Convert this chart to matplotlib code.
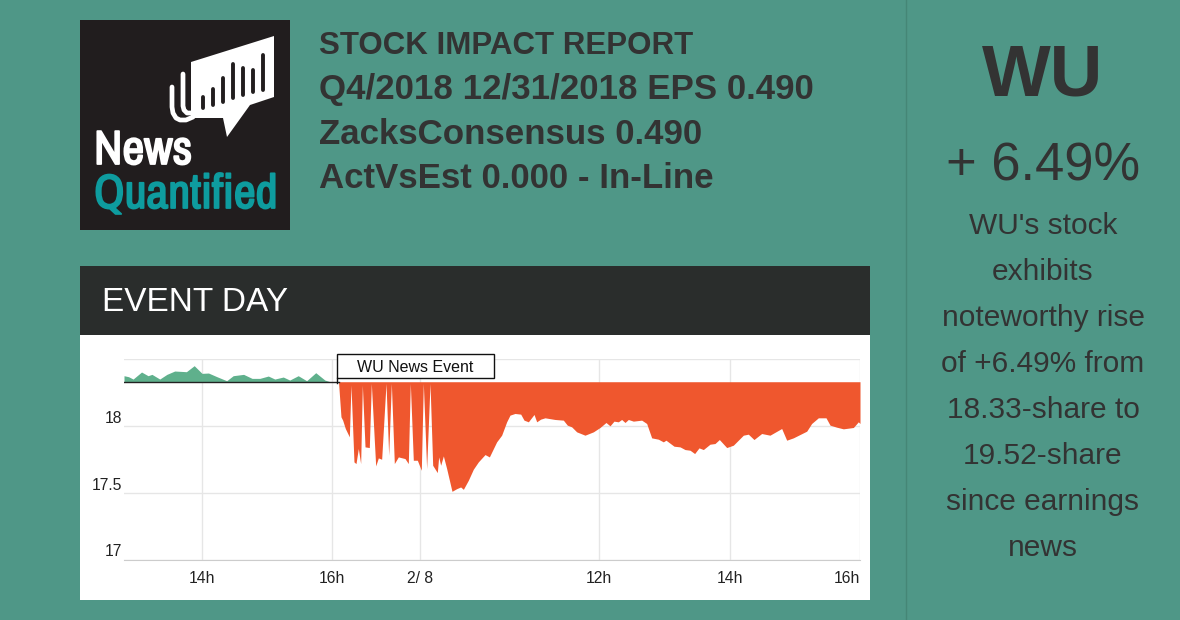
import numpy as np
import matplotlib
matplotlib.use('Agg')
import matplotlib.pyplot as plt
import matplotlib.patheffects as pe
from matplotlib import font_manager
from matplotlib.patches import Rectangle, Polygon

plt.rcParams['font.family'] = ['Liberation Sans', 'DejaVu Sans']

# report text
ticker = 'WU'
change_text = '+ 6.49%'
report_lines = ['STOCK IMPACT REPORT', 'Q4/2018 12/31/2018 EPS 0.490', 'ZacksConsensus 0.490', 'ActVsEst 0.000 - In-Line']
summary_lines = ["WU's stock", 'exhibits', 'noteworthy rise', 'of +6.49% from', '18.33-share to', '19.52-share', 'since earnings', 'news']

# price series, x is hours after 14h on the first day (axis skips the closed market)
event_price = 18.33
hours = [-1.2, -1.13, -1.06, -0.93, -0.83, -0.77, -0.65, -0.54, -0.42, -0.24, -0.12, 0, 0.10, 0.23, 0.38, 0.48, 0.64, 0.77, 0.89, 1.02,
         1.12, 1.25, 1.35, 1.48, 1.61, 1.75, 1.89, 1.97, 2.10,
         2.138, 2.164, 2.205, 2.267, 2.292, 2.338, 2.369, 2.405, 2.441, 2.467, 2.508, 2.574, 2.605, 2.672, 2.713, 2.764, 2.831, 2.872, 2.913, 2.959,
         3.021, 3.123, 3.174, 3.205, 3.251, 3.313, 3.374, 3.405, 3.456, 3.508, 3.549, 3.620, 3.641, 3.672, 3.713, 3.764, 3.846, 3.918, 3.979,
         4.021, 4.097, 4.174, 4.251, 4.354, 4.421, 4.533, 4.610, 4.687, 4.738, 4.815, 4.903, 4.954,
         5.021, 5.108, 5.149, 5.210, 5.277, 5.431, 5.559, 5.620, 5.687, 5.764, 5.892,
         6.021, 6.123, 6.215, 6.277, 6.338, 6.405, 6.456, 6.508, 6.559, 6.636, 6.764, 6.841, 6.918,
         7.021, 7.097, 7.138, 7.262, 7.354, 7.431, 7.508, 7.579, 7.646, 7.713, 7.815, 7.892, 7.959,
         8.072, 8.174, 8.328, 8.405, 8.492, 8.610, 8.738, 8.918, 8.995,
         9.097, 9.303, 9.379, 9.482, 9.600, 9.662, 9.764, 9.867, 10.021, 10.097, 10.123]
prices = [18.375, 18.3675, 18.35, 18.4025, 18.375, 18.385, 18.35, 18.385, 18.41, 18.405, 18.45, 18.3925, 18.395, 18.3675, 18.3375, 18.375, 18.385, 18.355, 18.355, 18.3725,
          18.35, 18.365, 18.3425, 18.375, 18.3375, 18.3975, 18.3425, 18.33, 18.33,
          18.0675, 18.0425, 17.98, 17.9175, 18.305, 17.73, 17.7175, 17.83, 17.7175, 18.305, 17.8425, 17.8375, 18.3175, 17.70, 17.76, 17.75, 18.3175, 17.78, 18.3175, 17.7175,
          17.7675, 17.755, 17.7175, 18.3175, 17.7425, 17.7425, 17.6675, 18.3175, 17.68, 18.3175, 17.705, 17.65, 17.7675, 17.705, 17.775, 17.68, 17.51, 17.53, 17.5425,
          17.525, 17.5925, 17.675, 17.73, 17.785, 17.7675, 17.88, 17.93, 18.03, 18.08, 18.0925, 18.0875, 18.0425,
          18.03, 18.085, 18.03, 18.05, 18.06, 18.0475, 18.0425, 18.005, 17.9925, 17.955, 17.93,
          17.955, 17.9875, 18.025, 18.0, 18.035, 18.03, 18.0475, 18.025, 18.0475, 18.035, 18.0425, 18.0175, 17.91,
          17.90, 17.88, 17.8925, 17.8475, 17.8425, 17.8225, 17.8175, 17.7925, 17.835, 17.8225, 17.8625, 17.8675, 17.8975,
          17.8375, 17.855, 17.93, 17.9375, 17.8975, 17.9425, 17.93, 17.98, 17.8925,
          17.91, 17.96, 18.0175, 18.06, 18.06, 18.005, 17.99, 17.9775, 17.9875, 18.03, 18.0175]

x_ticks = [0, 2, 3.354, 6.108, 8.123, 10.123]
x_labels = ['14h', '16h', '2/ 8', '12h', '14h', '16h']
y_ticks = [17, 17.5, 18, 18.5]
y_labels = ['17', '17.5', '18', '']

BG = '#4f9787'
DARK = '#333333'
LOGO = '#211d1e'
W, H = 1180, 620

fig = plt.figure(figsize=(W / 100, H / 100), dpi=100, facecolor=BG)

# page furniture is placed in pixels
page = fig.add_axes([0, 0, 1, 1], zorder=0)
page.set_xlim(0, W)
page.set_ylim(H, 0)
page.axis('off')

page.plot([906, 906], [0, H], color='#458676', lw=1)
page.add_patch(Rectangle((80, 266), 790, 69, fc='#2a2d2c', ec='none'))
page.add_patch(Rectangle((80, 335), 790, 265, fc='white', ec='none'))
page.text(102, 299, 'EVENT DAY', color='white', fontsize=24, va='center_baseline')

# logo
page.add_patch(Rectangle((80, 20), 210, 210, fc=LOGO, ec='none'))
page.add_patch(Polygon([(191, 62), (274, 36), (274, 97), (250, 105), (227, 137), (223, 118), (191, 118)], fc='white', ec='none'))
page.plot([172, 172, 173, 176, 180, 186, 193], [87, 107, 113, 118, 120, 120, 117], color='white', lw=3.4, solid_capstyle='round')
page.plot([183, 183, 184, 187, 192], [74, 106, 110, 113, 113], color='white', lw=3.4, solid_capstyle='round')
for bx, top, bot in [(203, 97, 108), (213, 89, 105), (223, 78, 102), (233, 64, 98), (243, 68, 95), (253, 70, 92), (263, 55, 90)]:
    page.plot([bx, bx], [top, bot], color=LOGO, lw=2.8, solid_capstyle='round')

# no condensed face by name in the sandbox, so take one if there is any
narrow_names = sorted({f.name for f in font_manager.fontManager.ttflist if 'Narrow' in f.name or 'Condensed' in f.name})
if narrow_names:
    logo_family, logo_size, logo_stroke = narrow_names[0], 34.5, 1.3
else:
    logo_family, logo_size, logo_stroke = 'Liberation Sans', 26.6, 0
for word, color, base in [('News', 'white', 164), ('Quantified', '#0e9c9f', 208)]:
    page.text(94, base, word, color=color, fontsize=logo_size, fontweight='bold', family=logo_family, va='baseline',
              path_effects=[pe.withStroke(linewidth=logo_stroke, foreground=color)])

# report heading
for i, line in enumerate(report_lines):
    size = 22.5 if i == 0 else 25.1
    page.text(319, 42 + 44.4 * i, line, color=DARK, fontsize=size, fontweight='bold', va='center_baseline')

# right hand column
page.text(1043, 69.5, ticker, color=DARK, fontsize=52.5, fontweight='bold', ha='center', va='center_baseline')
page.text(1043, 161, change_text, color=DARK, fontsize=37.8, ha='center', va='center_baseline')
for i, line in enumerate(summary_lines):
    page.text(1043, 223 + 46 * i, line, color=DARK, fontsize=21.5, ha='center', va='center_baseline')

# chart
ax = fig.add_axes([124 / W, 1 - 559.5 / H, 736 / W, 200.5 / H], zorder=1)
ax.patch.set_alpha(0)
hours = np.array(hours)
prices = np.array(prices)
ax.fill_between(hours, prices, event_price, where=prices >= event_price, interpolate=True, color='#5fb08c', lw=0, zorder=2)
ax.fill_between(hours, prices, event_price, where=prices <= event_price, interpolate=True, color='#ef572e', lw=0, zorder=2)
ax.plot([hours[0], 2.1], [event_price, event_price], color='#222222', lw=1, zorder=3)
ax.set_xlim(-1.2, 10.123)
ax.set_ylim(17, 18.5)
ax.set_xticks(x_ticks, x_labels)
ax.set_yticks(y_ticks, y_labels)
ax.grid(True, color='#e6e6e6', lw=1)
ax.set_axisbelow(True)
ax.tick_params(length=0, labelsize=11.3, colors='#222222')
ax.tick_params(axis='x', pad=8)
ax.tick_params(axis='y', pad=1.5)
for lab in ax.get_yticklabels():
    lab.set_va('bottom')
ax.get_xticklabels()[-1].set_ha('right')
for side in ['top', 'left', 'right']:
    ax.spines[side].set_visible(False)
ax.spines['bottom'].set_color('#cccccc')

# event flag on top of the chart
over = fig.add_axes([0, 0, 1, 1], zorder=2)
over.set_xlim(0, W)
over.set_ylim(H, 0)
over.axis('off')
over.add_patch(Rectangle((337, 354), 156.5, 24, fc='white', ec='#111111', lw=1))
over.plot([337, 337], [378, 383], color='#111111', lw=1)
over.text(415, 365.5, 'WU News Event', color='#111111', fontsize=11.5, ha='center', va='center_baseline')

fig.savefig('out.png', dpi=100, facecolor=BG)
